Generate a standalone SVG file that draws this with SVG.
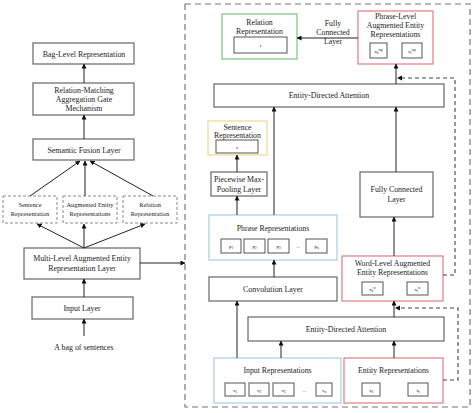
<svg xmlns="http://www.w3.org/2000/svg" width="474" height="413" viewBox="0 0 474 413">
<defs>
<marker id="ah" viewBox="0 0 6 6" refX="5.5" refY="3" markerWidth="5" markerHeight="5" orient="auto" markerUnits="userSpaceOnUse"><path d="M0,0 L6,3 L0,6 z" fill="#111"/></marker>
</defs>
<style>
text{font-family:"Liberation Serif","Times New Roman",serif;fill:#222;text-anchor:middle}
.t{font-size:7.9px}
.s{font-size:7.8px}
.dl{font-size:6.4px}
.x{font-size:5px}
.sub{font-size:3.5px}
.b{fill:#fff;stroke:#666;stroke-width:1.2}
.d{fill:#fff;stroke:#888;stroke-width:1;stroke-dasharray:3,2}
.in{fill:#fff;stroke:#555;stroke-width:1}
.g{fill:#fff;stroke:#7cc47c;stroke-width:1.2}
.r{fill:#fff;stroke:#e07d80;stroke-width:1.2}
.bl{fill:#fff;stroke:#a9cbe6;stroke-width:1.2}
.y{fill:#fff;stroke:#f2d78c;stroke-width:1.2}
.a{fill:none;stroke:#222;stroke-width:1;marker-end:url(#ah)}
.da{fill:none;stroke:#444;stroke-width:1.1;stroke-dasharray:4,3}
</style>

<rect x="185" y="4" width="285" height="403" fill="none" stroke="#777" stroke-width="1.2" stroke-dasharray="6,4"/>

<g id="bag"><rect class="b" x="33" y="43" width="101" height="21"/><text class="t" x="84" y="56.5">Bag-Level Representation</text></g>
<g id="rmag"><rect class="b" x="33" y="83" width="101" height="32"/><text class="t" x="84" y="92.5">Relation-Matching</text><text class="t" x="84" y="101.5">Aggregation Gate</text><text class="t" x="84" y="110.5">Mechanism</text></g>
<g id="sfl"><rect class="b" x="33" y="139" width="101" height="21"/><text class="t" x="84" y="152.5">Semantic Fusion Layer</text></g>
<g id="sr"><rect class="d" x="3" y="196" width="54" height="27"/><text class="dl" x="30" y="207">Sentence</text><text class="dl" x="30" y="215.5">Representation</text></g>
<g id="aer"><rect class="d" x="63" y="196" width="54" height="27"/><text class="dl" x="90" y="207">Augmented Entity</text><text class="dl" x="90" y="215.5">Representations</text></g>
<g id="rr"><rect class="d" x="123" y="196" width="54" height="27"/><text class="dl" x="150" y="207">Relation</text><text class="dl" x="150" y="215.5">Representation</text></g>
<g id="mlaer"><rect class="b" x="24" y="248" width="116" height="31"/><text class="t" x="82" y="261">Multi-Level Augmented Entity</text><text class="t" x="82" y="270.5">Representation Layer</text></g>
<g id="il"><rect class="b" x="32" y="297" width="101" height="22"/><text class="t" x="82" y="310.5">Input Layer</text></g>
<g id="bags"><text class="t" x="84" y="350">A bag of sentences</text></g>

<g id="relrep"><rect class="g" x="222" y="14" width="75" height="45"/><text class="s" x="259.5" y="25">Relation</text><text class="s" x="259.5" y="34">Representation</text><rect class="in" x="234" y="37" width="53" height="16"/><text class="x" x="260.5" y="47">r</text></g>
<g id="fcl-label"><text class="s" x="333" y="26">Fully</text><text class="s" x="333" y="35">Connected</text><text class="s" x="333" y="44">Layer</text></g>
<g id="plaer"><rect class="r" x="358" y="11" width="75" height="53"/><text class="s" x="395.5" y="19">Phrase-Level</text><text class="s" x="395.5" y="28">Augmented Entity</text><text class="s" x="395.5" y="37">Representations</text>
<rect class="in" x="370" y="43" width="17" height="15"/><text class="x" x="378.5" y="52.5">x<tspan class="sub" dy="1">h</tspan><tspan class="sub" dy="-3">wp</tspan></text>
<rect class="in" x="402" y="43" width="20" height="15"/><text class="x" x="412" y="52.5">x<tspan class="sub" dy="1">t</tspan><tspan class="sub" dy="-3">wp</tspan></text></g>
<g id="eda1"><rect class="b" x="214" y="84" width="230" height="23"/><text class="t" x="329" y="98">Entity-Directed Attention</text></g>
<g id="sent"><rect class="y" x="208" y="121" width="59" height="34"/><text class="s" x="237.5" y="129.5">Sentence</text><text class="s" x="237.5" y="137.5">Representation</text><rect class="in" x="216" y="140" width="42" height="13"/><text class="x" x="237" y="148.5">s</text></g>
<g id="pmp"><rect class="b" x="211" y="172" width="56" height="24"/><text class="s" x="239" y="182">Piecewise Max-</text><text class="s" x="239" y="191.5">Pooling Layer</text></g>
<g id="fcl"><rect class="b" x="360" y="172" width="73" height="45"/><text class="s" x="396.5" y="192">Fully Connected</text><text class="s" x="396.5" y="202">Layer</text></g>
<g id="phr"><rect class="bl" x="209" y="215" width="128" height="45"/><text class="s" x="273" y="231">Phrase Representations</text>
<rect class="in" x="221" y="239" width="20" height="14"/><text class="x" x="231" y="248">p<tspan class="sub" dy="1">1</tspan></text>
<rect class="in" x="244" y="239" width="21" height="14"/><text class="x" x="254.5" y="248">p<tspan class="sub" dy="1">2</tspan></text>
<rect class="in" x="268" y="239" width="21" height="14"/><text class="x" x="278.5" y="248">p<tspan class="sub" dy="1">3</tspan></text>
<text class="x" x="298" y="248">...</text>
<rect class="in" x="306" y="239" width="21" height="14"/><text class="x" x="316.5" y="248">p<tspan class="sub" dy="1">n</tspan></text></g>
<g id="wlaer"><rect class="r" x="342" y="256" width="101" height="45"/><text class="s" x="392.5" y="266">Word-Level Augmented</text><text class="s" x="392.5" y="275">Entity Representations</text>
<rect class="in" x="362" y="282" width="21" height="13"/><text class="x" x="372.5" y="290.5">x<tspan class="sub" dy="1">h</tspan><tspan class="sub" dy="-3">w</tspan></text>
<rect class="in" x="407" y="282" width="21" height="13"/><text class="x" x="417.5" y="290.5">x<tspan class="sub" dy="1">t</tspan><tspan class="sub" dy="-3">w</tspan></text></g>
<g id="conv"><rect class="b" x="209" y="277" width="128" height="24"/><text class="t" x="273" y="292">Convolution Layer</text></g>
<g id="eda2"><rect class="b" x="248" y="317" width="196" height="24"/><text class="t" x="346" y="332">Entity-Directed Attention</text></g>
<g id="inrep"><rect class="bl" x="214" y="358" width="127" height="45"/><text class="s" x="277.5" y="373">Input Representations</text>
<rect class="in" x="225" y="383" width="20" height="13"/><text class="x" x="235" y="391.5">x<tspan class="sub" dy="1">1</tspan></text>
<rect class="in" x="249" y="383" width="20" height="13"/><text class="x" x="259" y="391.5">x<tspan class="sub" dy="1">2</tspan></text>
<rect class="in" x="273" y="383" width="21" height="13"/><text class="x" x="283.5" y="391.5">x<tspan class="sub" dy="1">3</tspan></text>
<text class="x" x="304" y="391.5">...</text>
<rect class="in" x="316" y="383" width="16" height="13"/><text class="x" x="324" y="391.5">x<tspan class="sub" dy="1">n</tspan></text></g>
<g id="entrep"><rect class="r" x="344" y="358" width="99" height="45"/><text class="s" x="393.5" y="373">Entity Representations</text>
<rect class="in" x="362" y="383" width="18" height="13"/><text class="x" x="371" y="391.5">x<tspan class="sub" dy="1">h</tspan></text>
<rect class="in" x="408" y="383" width="20" height="13"/><text class="x" x="418" y="391.5">x<tspan class="sub" dy="1">t</tspan></text></g>

<g id="connectors">
<path class="a" d="M84,83 V64"/>
<path class="a" d="M84,139 V115"/>
<path class="a" d="M30,196 L80,161"/>
<path class="a" d="M85,196 V161"/>
<path class="a" d="M153,196 L90,161"/>
<path class="a" d="M84,248 L37,224"/>
<path class="a" d="M84,248 V224"/>
<path class="a" d="M84,248 L145,224"/>
<path class="a" d="M84,297 V279"/>
<path class="a" d="M84,336 V319"/>
<path class="a" d="M140,263 H185"/>
<path class="a" d="M358,38 H297"/>
<path class="a" d="M396,84 V64"/>
<path class="a" d="M274,215 V107"/>
<path class="a" d="M396,172 V107"/>
<path class="a" d="M237,172 V155"/>
<path class="a" d="M237,215 V196"/>
<path class="a" d="M274,277 V260"/>
<path class="a" d="M394,256 V217"/>
<path class="a" d="M394,317 V301"/>
<path class="a" d="M237,358 V301"/>
<path class="a" d="M281,358 V341"/>
<path class="a" d="M394,358 V341"/>
<path class="da" d="M443,275 H455 V78 H398"/>
<path d="M397,78 L402,75.5 L402,80.5 z" fill="#111"/>
<path class="da" d="M443,380 H458 V308 H396"/>
<path d="M395,308 L400,305.5 L400,310.5 z" fill="#111"/>
</g>
</svg>
